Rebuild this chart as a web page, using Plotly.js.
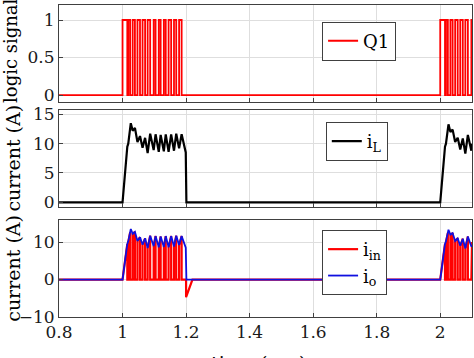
<!DOCTYPE html>
<html>
<head>
<meta charset="utf-8">
<script src="https://cdn.plot.ly/plotly-3.0.1.min.js"></script>
<style>html,body{margin:0;padding:0;background:#fff;}#chart{width:474px;height:358px;}</style>
</head>
<body>
<div id="chart"></div>
<script>
// ---- Data ----
// Q1 logic signal (time in s, level)
const q1Time = [0.8, 1.000, 1.000, 1.015, 1.015, 1.018, 1.018, 1.024, 1.024, 1.032, 1.032, 1.039, 1.039,
  1.047, 1.047, 1.055, 1.055, 1.063, 1.063, 1.071, 1.071, 1.079, 1.079, 1.087, 1.087, 1.098, 1.098,
  1.104, 1.104, 1.114, 1.114, 1.120, 1.120, 1.130, 1.130, 1.136, 1.136, 1.145, 1.145, 1.153, 1.153,
  1.162, 1.162, 1.169, 1.169, 1.178, 1.178, 1.186, 1.186,
  2.000, 2.000, 2.015, 2.015, 2.018, 2.018, 2.024, 2.024, 2.032, 2.032, 2.039, 2.039,
  2.047, 2.047, 2.055, 2.055, 2.063, 2.063, 2.071, 2.071, 2.079, 2.079, 2.087, 2.087, 2.098, 2.098, 2.1];
const q1Level = [0, 0, 1, 1, 0, 0, 1, 1, 0, 0, 1, 1, 0,
  0, 1, 1, 0, 0, 1, 1, 0, 0, 1, 1, 0, 0, 1,
  1, 0, 0, 1, 1, 0, 0, 1, 1, 0, 0, 1, 1, 0,
  0, 1, 1, 0, 0, 1, 1, 0,
  0, 1, 1, 0, 0, 1, 1, 0, 0, 1, 1, 0,
  0, 1, 1, 0, 0, 1, 1, 0, 0, 1, 1, 0, 0, 1, 1];

// inductor current iL (A)
const iLTime = [0.8, 1.000, 1.015, 1.018, 1.026, 1.032, 1.039, 1.047, 1.055, 1.063, 1.071, 1.079, 1.087,
  1.098, 1.104, 1.114, 1.120, 1.130, 1.136, 1.145, 1.153, 1.162, 1.169, 1.178, 1.186, 1.199, 1.201,
  2.000, 2.015, 2.018, 2.026, 2.032, 2.039, 2.047, 2.055, 2.063, 2.071, 2.079, 2.087, 2.098, 2.1];
const iLVal = [0, 0, 9.5, 10.0, 13.5, 12.2, 12.7, 10.3, 11.3, 9.3, 11.0, 8.4, 11.7,
  8.9, 11.6, 8.6, 11.5, 8.7, 11.6, 8.6, 11.6, 8.8, 11.7, 9.2, 11.6, 8.5, 0,
  0, 9.5, 10.0, 13.3, 12.0, 12.4, 10.3, 11.0, 9.0, 10.9, 8.3, 11.5, 8.8, 10.0];

// input current iin (A)
const iinTime = [0.8, 1.000, 1.015, 1.015, 1.018, 1.018, 1.024, 1.024, 1.032, 1.032, 1.039, 1.039,
  1.047, 1.047, 1.055, 1.055, 1.063, 1.063, 1.071, 1.071, 1.079, 1.079, 1.087, 1.087, 1.098, 1.098,
  1.104, 1.104, 1.114, 1.114, 1.120, 1.120, 1.130, 1.130, 1.136, 1.136, 1.145, 1.145, 1.153, 1.153,
  1.162, 1.162, 1.169, 1.169, 1.178, 1.178, 1.186, 1.186, 1.200, 1.200, 1.220,
  2.000, 2.015, 2.015, 2.018, 2.018, 2.024, 2.024, 2.032, 2.032, 2.039, 2.039,
  2.047, 2.047, 2.055, 2.055, 2.063, 2.063, 2.071, 2.071, 2.079, 2.079, 2.087, 2.087, 2.098, 2.098, 2.1];
const iinVal = [0, 0, 9.5, 0, 0, 10.0, 12.6, 0, 0, 12.2, 12.7, 0,
  0, 10.3, 11.3, 0, 0, 9.3, 11.0, 0, 0, 8.4, 11.7, 0, 0, 8.9,
  11.6, 0, 0, 8.6, 11.5, 0, 0, 8.7, 11.6, 0, 0, 8.6, 11.6, 0,
  0, 8.8, 11.7, 0, 0, 9.2, 11.6, 0, 0, -4.7, 0,
  0, 9.5, 0, 0, 10.0, 12.4, 0, 0, 12.0, 12.4, 0,
  0, 10.3, 11.0, 0, 0, 9.0, 10.9, 0, 0, 8.3, 11.5, 0, 0, 8.8, 10.0];

// output current io (A)
const ioTime = [0.8, 1.000, 1.015, 1.018, 1.026, 1.032, 1.039, 1.047, 1.055, 1.063, 1.071, 1.079, 1.087,
  1.098, 1.104, 1.114, 1.120, 1.130, 1.136, 1.145, 1.153, 1.162, 1.169, 1.178, 1.186, 1.199, 1.201,
  2.000, 2.015, 2.018, 2.026, 2.032, 2.039, 2.047, 2.055, 2.063, 2.071, 2.079, 2.087, 2.098, 2.1];
const ioVal = [0, 0, 9.5, 10.2, 13.5, 12.2, 12.7, 10.3, 11.3, 9.3, 11.0, 8.4, 11.7,
  8.9, 11.6, 8.6, 11.5, 8.7, 11.6, 8.6, 11.6, 8.8, 11.7, 9.2, 11.6, 8.5, 0,
  0, 9.5, 10.2, 13.3, 12.0, 12.4, 10.3, 11.0, 9.0, 10.9, 8.3, 11.5, 8.8, 9.0];

// axis ticks
const xTickVals = [0.8, 1.0, 1.2, 1.4, 1.6, 1.8, 2.0];
const xTickText = ['0.8', '1', '1.2', '1.4', '1.6', '1.8', '2'];
const y1Ticks = [0, 0.5, 1];
const y1TickText = ['0', '0.5', '1'];
const y2Ticks = [0, 5, 10, 15];
const y3Ticks = [-10, 0, 10];

// ---- Figure ----
const serif = 'DejaVu Serif';
const traces = [
  {x: q1Time, y: q1Level, type: 'scatter', mode: 'lines', name: 'Q1',
   line: {color: '#ff0000', width: 1.8}, xaxis: 'x', yaxis: 'y', legend: 'legend'},
  {x: iLTime, y: iLVal, type: 'scatter', mode: 'lines', name: 'i<sub>L</sub>',
   line: {color: '#000000', width: 2.2}, xaxis: 'x2', yaxis: 'y2', legend: 'legend2'},
  {x: iinTime, y: iinVal, type: 'scatter', mode: 'lines', name: 'i<sub>in</sub>',
   line: {color: '#ff0000', width: 2.2}, xaxis: 'x3', yaxis: 'y3', legend: 'legend3'},
  {x: ioTime, y: ioVal, type: 'scatter', mode: 'lines', name: 'i<sub>o</sub>',
   line: {color: '#1010e0', width: 1.8}, xaxis: 'x3', yaxis: 'y3', legend: 'legend3'}
];

const axCommon = {
  showline: true, mirror: true, linecolor: '#404040', linewidth: 1,
  showgrid: true, gridcolor: '#dedede', gridwidth: 1,
  zeroline: false, ticks: 'inside', ticklen: 4, tickcolor: '#404040',
  tickfont: {family: serif, size: 17, color: '#1a1a1a'}
};
const xCommon = Object.assign({}, axCommon, {range: [0.8, 2.1], tickmode: 'array',
  tickvals: xTickVals, ticktext: xTickText});

const legCommon = {bgcolor: '#ffffff', bordercolor: '#404040', borderwidth: 1,
  font: {family: serif, size: 18, color: '#000'}, xanchor: 'left', yanchor: 'top',
  itemwidth: 30, tracegroupgap: 0};

const layout = {
  width: 474, height: 358,
  margin: {l: 59, r: 2, t: 5, b: 41},
  paper_bgcolor: '#ffffff', plot_bgcolor: '#ffffff',
  showlegend: true,
  font: {family: serif},
  xaxis: Object.assign({}, xCommon, {anchor: 'y', showticklabels: false}),
  xaxis2: Object.assign({}, xCommon, {anchor: 'y2', showticklabels: false}),
  xaxis3: Object.assign({}, xCommon, {anchor: 'y3', showticklabels: true}),
  yaxis: Object.assign({}, axCommon, {domain: [0.689, 1.0], range: [-0.093, 1.2], tickmode: 'array',
    tickvals: y1Ticks, ticktext: y1TickText}),
  yaxis2: Object.assign({}, axCommon, {domain: [0.3535, 0.6635], range: [-0.75, 15.75], tickmode: 'array',
    tickvals: y2Ticks}),
  yaxis3: Object.assign({}, axCommon, {domain: [0, 0.311], range: [-10, 15.9], tickmode: 'array',
    tickvals: y3Ticks}),
  legend: Object.assign({}, legCommon, {x: 0.637, y: 0.947}),
  legend2: Object.assign({}, legCommon, {x: 0.646, y: 0.625}),
  legend3: Object.assign({}, legCommon, {x: 0.637, y: 0.279}),
  annotations: [
    {text: 'logic signal', xref: 'paper', yref: 'paper', x: -0.117, y: 0.855, textangle: -90,
     showarrow: false, xanchor: 'center', yanchor: 'middle', font: {family: serif, size: 18, color: '#000'}},
    {text: 'current (A)', xref: 'paper', yref: 'paper', x: -0.112, y: 0.51, textangle: -90,
     showarrow: false, xanchor: 'center', yanchor: 'middle', font: {family: serif, size: 19, color: '#000'}},
    {text: 'current (A)', xref: 'paper', yref: 'paper', x: -0.112, y: 0.157, textangle: -90,
     showarrow: false, xanchor: 'center', yanchor: 'middle', font: {family: serif, size: 19, color: '#000'}},
    {text: 'time (sec)', xref: 'paper', yref: 'paper', x: 0.482, y: -0.148,
     showarrow: false, xanchor: 'center', yanchor: 'middle', font: {family: serif, size: 19, color: '#000'}}
  ]
};

Plotly.newPlot('chart', traces, layout, {displayModeBar: false, staticPlot: true});
</script>
</body>
</html>
